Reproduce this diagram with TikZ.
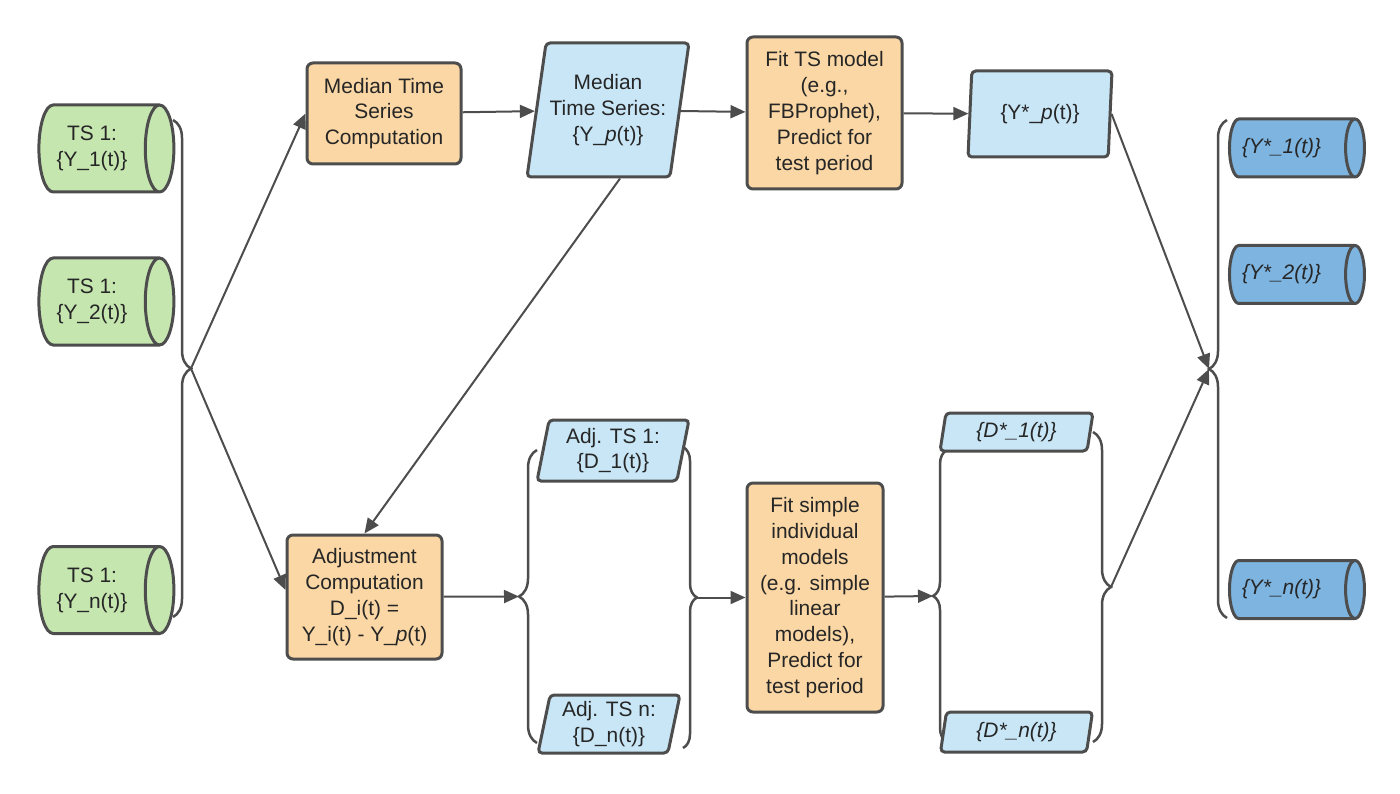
\documentclass[tikz,border=0pt]{standalone}
\usepackage{fontspec}
\setmainfont{Liberation Sans}
\usetikzlibrary{shapes.geometric,arrows.meta,decorations.pathreplacing}
\definecolor{edge}{HTML}{4D4D4D}
\definecolor{peach}{HTML}{FAD7A4}
\definecolor{skyblue}{HTML}{C8E6F6}
\definecolor{leaf}{HTML}{C6E6B0}
\definecolor{deepblue}{HTML}{7DB4E0}
\definecolor{ink}{HTML}{262626}

\begin{document}
\begin{tikzpicture}[x=1pt,y=-1pt,
    every node/.style={font=\fontsize{20.9}{25.8}\selectfont,text=ink,align=center},
    >={Triangle[length=15pt,width=13pt]},
    proc/.style={draw=edge,line width=3pt,fill=peach,rounded corners=6pt,inner sep=0pt},
    data/.style={trapezium,trapezium left angle=75,trapezium right angle=105,%
      trapezium stretches body,draw=edge,line width=3pt,fill=skyblue,%
      rounded corners=4pt,inner sep=0pt},
    store/.style={cylinder,shape border rotate=0,draw=edge,line width=3pt,inner sep=0pt},
    flow/.style={->,draw=edge,line width=2pt},
    curly/.style={decorate,decoration={brace,amplitude=#1},draw=edge,line width=2.5pt},
    curly/.default=18]
      \useasboundingbox (0,0) rectangle (1400,794) ;
      % braces
      \draw[curly] (173,120)--(173,617) ;
      \draw[curly] (1227,618)--(1227,120) ;
      \draw[curly] (537,743)--(537,450) ;
      \draw[curly=14] (683,447)--(683,748) ;
      \draw[curly=14] (947,742)--(947,450) ;
      \draw[curly] (1093,432)--(1093,742) ;
      \coordinate (lb) at (191,368.5) ;
      \coordinate (rb) at (1209,369) ;
      \coordinate (ab1) at (519,596.5) ;
      \coordinate (ab2) at (697,597.5) ;
      \coordinate (db1) at (933,596) ;
      \coordinate (db2) at (1111,587) ;
      % input series
      \node[store,fill=leaf,minimum height=135pt,minimum width=87pt,aspect=0.64] %
      (ts1) at (98.5,148.5) {TS 1:\hspace*{13pt}\\\{Y\_1(t)\}\hspace*{13pt}} ;
      \node[store,fill=leaf,minimum height=135pt,minimum width=87pt,aspect=0.64] %
      (ts2) at (98.5,301.5) {TS 1:\hspace*{13pt}\\\{Y\_2(t)\}\hspace*{13pt}} ;
      \node[store,fill=leaf,minimum height=135pt,minimum width=87pt,aspect=0.64] %
      (tsn) at (98.5,590) {TS 1:\hspace*{13pt}\\\{Y\_n(t)\}\hspace*{13pt}} ;
      % median branch
      \node[proc,minimum width=154pt,minimum height=101pt] (mtsc) at (384,113.5) %
      {Median Time\\Series\\Computation} ;
      \node[data,minimum width=162pt,minimum height=134pt] (mts) at (608,110) %
      {Median\\Time Series:\\\{Y\_\textit{p}(t)\}} ;
      \node[proc,minimum width=155pt,minimum height=152pt] (fit) at (824.5,113) %
      {Fit TS model\\(e.g.,\\FBProphet),\\Predict for\\test period} ;
      \node[data,trapezium left angle=79,trapezium right angle=101,%
      minimum width=144pt,minimum height=86pt] (ysp) at (1040,114) %
      {\{Y*\_\textit{p}(t)\}} ;
      % adjustment branch
      \node[proc,minimum width=155pt,minimum height=124pt] (adj) at (364.5,597) %
      {Adjustment\\Computation\\D\_i(t) =\\Y\_i(t) - Y\_\textit{p}(t)} ;
      \node[data,minimum width=152pt,minimum height=61pt] (adj1) at (613,450.5) %
      {Adj. TS 1:\\\{D\_1(t)\}} ;
      \node[data,minimum width=142pt,minimum height=58pt] (adjn) at (609,724) %
      {Adj. TS n:\\\{D\_n(t)\}} ;
      \node[proc,minimum width=136pt,minimum height=229pt] (fits) at (815,597.5) %
      {Fit simple\\individual\\models\\(e.g. simple\\linear\\models),\\Predict for\\test period} ;
      \node[data,trapezium left angle=73,trapezium right angle=107,%
      minimum width=153pt,minimum height=38pt] (ds1) at (1016.5,432) %
      {\itshape\{D*\_1(t)\}} ;
      \node[data,trapezium left angle=73,trapezium right angle=107,%
      minimum width=152pt,minimum height=40pt] (dsn) at (1016.5,732) %
      {\itshape\{D*\_n(t)\}} ;
      % output series
      \node[store,fill=deepblue,minimum height=135pt,minimum width=58pt,aspect=0.97] %
      (out1) at (1291.5,148) {\itshape\{Y*\_1(t)\}\hspace*{20pt}} ;
      \node[store,fill=deepblue,minimum height=135pt,minimum width=58pt,aspect=0.97] %
      (out2) at (1291.5,274.5) {\itshape\{Y*\_2(t)\}\hspace*{20pt}} ;
      \node[store,fill=deepblue,minimum height=135pt,minimum width=58pt,aspect=0.97] %
      (outn) at (1291.5,589.5) {\itshape\{Y*\_n(t)\}\hspace*{20pt}} ;
      % connectors
      \draw[flow] (lb)--(mtsc.west) ;
      \draw[flow] (lb)--([yshift=7pt]adj.west) ;
      \draw[flow] (mtsc)--(mts) ;
      \draw[flow] (mts)--(fit) ;
      \draw[flow] (fit)--(ysp) ;
      \draw[flow] (ysp.east)--(rb) ;
      \draw[flow] ([xshift=12pt]mts.south)--(adj.north) ;
      \draw[flow] (adj)--(ab1) ;
      \draw[flow] (ab2)--(fits) ;
      \draw[flow] (fits)--(db1) ;
      \draw[flow] (db2)--(rb) ;
    \end{tikzpicture}
\end{document}
